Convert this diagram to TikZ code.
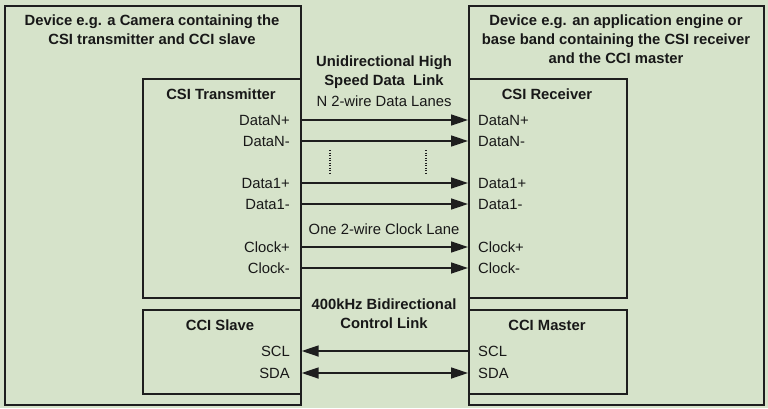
\documentclass[tikz,border=0pt]{standalone}
\usepackage{fontspec}
\setmainfont{Liberation Sans}
\usetikzlibrary{arrows.meta}

\definecolor{bggreen}{RGB}{214,227,202}
\definecolor{edgegray}{RGB}{30,30,30}
\definecolor{inkgray}{RGB}{24,24,24}

\tikzset{
  box/.style={draw=edgegray, line width=1.7pt, anchor=north west, inner sep=0pt},
  heading/.style={font=\bfseries\fontsize{14.8}{19}\selectfont, align=center, text=inkgray},
  sig/.style={font=\fontsize{14.8}{17}\selectfont, text=inkgray, inner sep=0pt},
  lane/.style={draw=edgegray, line width=1.7pt, -{Triangle[length=17pt,width=11pt]}},
}

\begin{document}
\begin{tikzpicture}[x=1pt,y=-1pt]
        % \draw[help lines, gray!50, very thin] (0,0) grid[step=50] (768,408);
        \fill[bggreen] (0,0) rectangle (768,408);
        \useasboundingbox (0,0) rectangle (768,408);

        % the two devices
        \node[box, minimum width=296pt, minimum height=399pt] (camdev) at (4,5) {};
        \node[box, minimum width=295pt, minimum height=399pt] (hostdev) at (468,5) {};
        \node[heading] (camtitle) at (152,30) {Device e.g. a Camera containing the\\CSI transmitter and CCI slave};
        \node[heading] (hosttitle) at (616,39) {Device e.g. an application engine or\\base band containing the CSI receiver\\and the CCI master};

        % CSI blocks
        \node[box, minimum width=158pt, minimum height=219pt] (csitx) at (142,78) {};
        \node[box, minimum width=158pt, minimum height=219pt] (csirx) at (468,78) {};
        \node[heading] (csitxname) at (221,94) {CSI Transmitter};
        \node[heading] (csirxname) at (547,94) {CSI Receiver};

        % CCI blocks
        \node[box, minimum width=158pt, minimum height=84pt] (ccislv) at (142,309) {};
        \node[box, minimum width=158pt, minimum height=84pt] (ccimst) at (468,309) {};
        \node[heading] (ccislvname) at (220,325) {CCI Slave};
        \node[heading] (ccimstname) at (547,325) {CCI Master};

        % link captions
        \node[heading] (hslink) at (384,72) {Unidirectional High\\Speed Data~ Link};
        \node[sig] (datalanes) at (384,101) {N 2-wire Data Lanes};
        \node[sig] (clklane) at (384,229) {One 2-wire Clock Lane};
        \node[heading] (ctrllink) at (384,314) {400kHz Bidirectional\\Control Link};

        % transmitter pins
        \node[sig, anchor=east] (txdnp) at (290,120) {DataN+};
        \node[sig, anchor=east] (txdnm) at (290,141) {DataN-};
        \node[sig, anchor=east] (txd1p) at (290,183) {Data1+};
        \node[sig, anchor=east] (txd1m) at (290,204) {Data1-};
        \node[sig, anchor=east] (txckp) at (290,247) {Clock+};
        \node[sig, anchor=east] (txckm) at (290,268) {Clock-};

        % receiver pins
        \node[sig, anchor=west] (rxdnp) at (478,120) {DataN+};
        \node[sig, anchor=west] (rxdnm) at (478,141) {DataN-};
        \node[sig, anchor=west] (rxd1p) at (478,183) {Data1+};
        \node[sig, anchor=west] (rxd1m) at (478,204) {Data1-};
        \node[sig, anchor=west] (rxckp) at (478,247) {Clock+};
        \node[sig, anchor=west] (rxckm) at (478,268) {Clock-};

        % CCI pins
        \node[sig, anchor=east] (slvscl) at (290,351) {SCL};
        \node[sig, anchor=east] (slvsda) at (290,373) {SDA};
        \node[sig, anchor=west] (mstscl) at (478,351) {SCL};
        \node[sig, anchor=west] (mstsda) at (478,373) {SDA};

        % lanes
        \draw[lane] (csitx.east |- txdnp) -- (csirx.west |- rxdnp);
        \draw[lane] (csitx.east |- txdnm) -- (csirx.west |- rxdnm);
        \draw[lane] (csitx.east |- txd1p) -- (csirx.west |- rxd1p);
        \draw[lane] (csitx.east |- txd1m) -- (csirx.west |- rxd1m);
        \draw[lane] (csitx.east |- txckp) -- (csirx.west |- rxckp);
        \draw[lane] (csitx.east |- txckm) -- (csirx.west |- rxckm);

        % dots between lane N and lane 1
        \draw[edgegray, line width=1.2pt, dash pattern=on 1pt off 1.5pt] (330,150) -- (330,173);
        \draw[edgegray, line width=1.2pt, dash pattern=on 1pt off 1.5pt] (426,150) -- (426,173);

        % control link
        \draw[lane] (ccimst.west |- mstscl) -- (ccislv.east |- slvscl);
        \draw[lane, {Triangle[length=17pt,width=11pt]}-{Triangle[length=17pt,width=11pt]}] (ccislv.east |- slvsda) -- (ccimst.west |- mstsda);
      \end{tikzpicture}
\end{document}
